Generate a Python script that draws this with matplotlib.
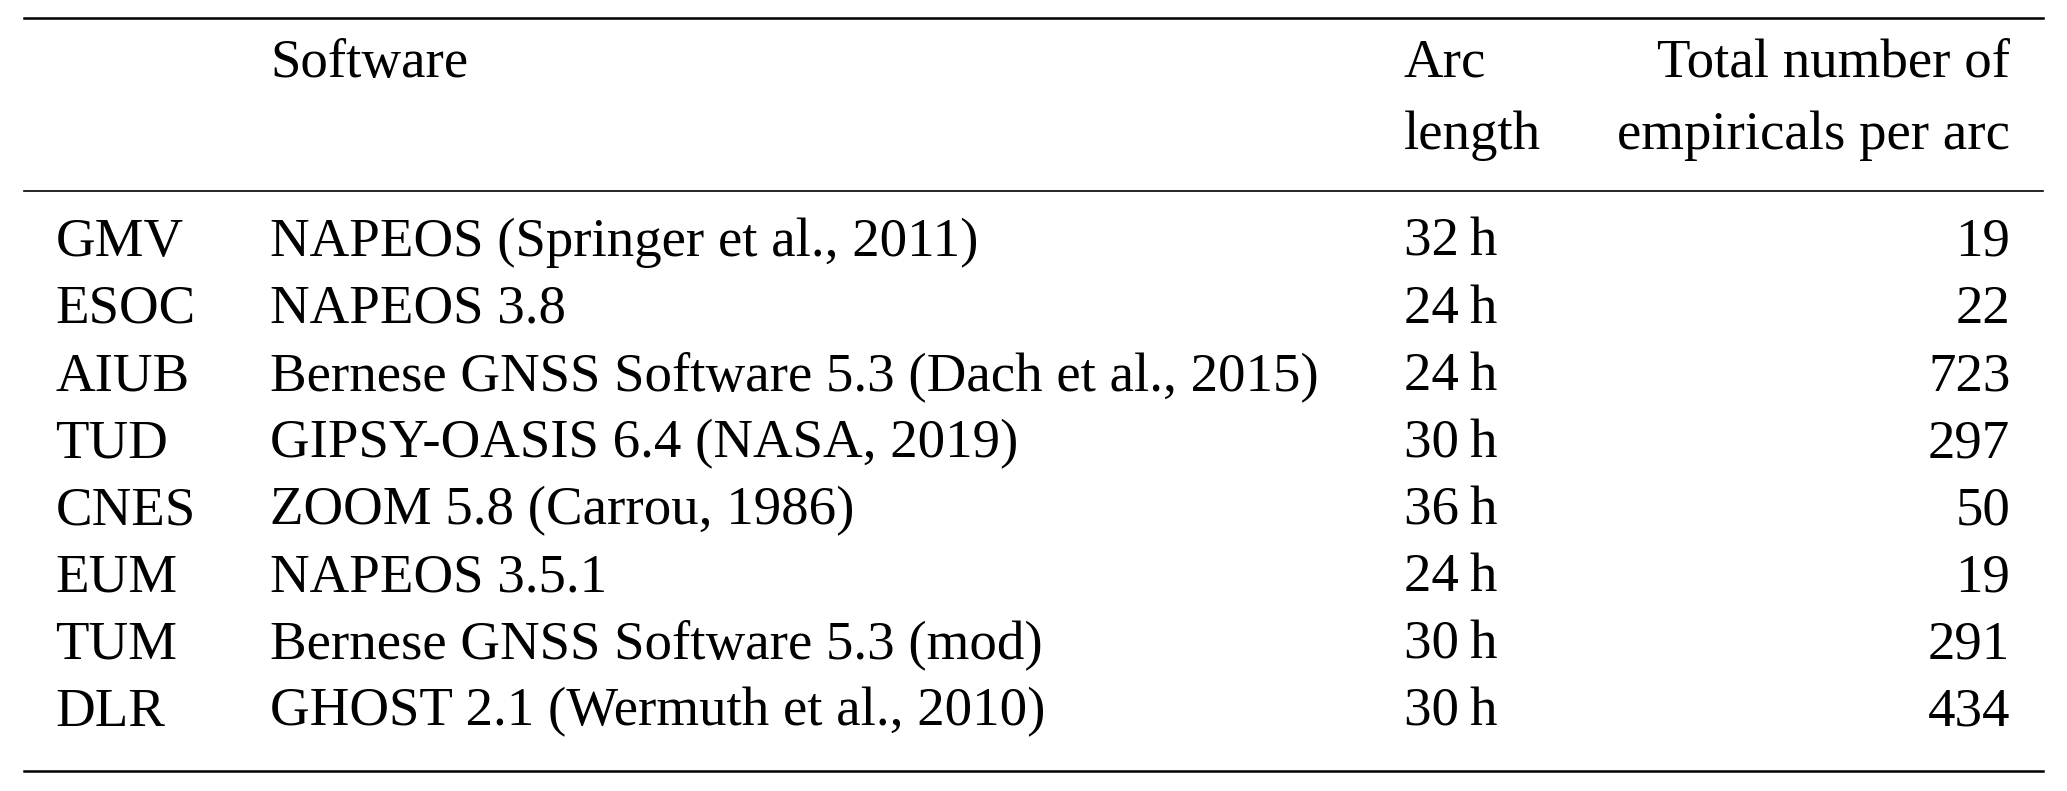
import matplotlib
matplotlib.use("Agg")
import matplotlib.pyplot as plt

# table contents
centres = ["GMV", "ESOC", "AIUB", "TUD", "CNES", "EUM", "TUM", "DLR"]
software = [
    "NAPEOS (Springer et al., 2011)",
    "NAPEOS 3.8",
    "Bernese GNSS Software 5.3 (Dach et al., 2015)",
    "GIPSY-OASIS 6.4 (NASA, 2019)",
    "ZOOM 5.8 (Carrou, 1986)",
    "NAPEOS 3.5.1",
    "Bernese GNSS Software 5.3 (mod)",
    "GHOST 2.1 (Wermuth et al., 2010)",
]
arc_hours = [32, 24, 24, 30, 36, 24, 30, 30]
n_empiricals = [19, 22, 723, 297, 50, 19, 291, 434]

W, H = 1568, 600  # layout reference units
fig = plt.figure(figsize=(20.67, 7.91), dpi=100)
ax = fig.add_axes([0, 0, 1, 1])
ax.set_xlim(0, W)
ax.set_ylim(H, 0)
ax.axis("off")

FS = 39.5
kw = dict(fontsize=FS, family=["Liberation Serif", "DejaVu Serif"], va="center")

for y, lw in [(14, 1.8), (145, 1.2), (585, 1.8)]:
    ax.plot([18, 1550], [y, y], color="black", lw=lw)

ax.text(205, 48, "Software", ha="left", **kw)
ax.text(1065, 48, "Arc", ha="left", **kw)
ax.text(1065, 103, "length", ha="left", **kw)
ax.text(1525, 48, "Total number of", ha="right", **kw)
ax.text(1525, 103, "empiricals per arc", ha="right", **kw)

y0, dy = 184, 50.9
for i, (c, s, a, n) in enumerate(zip(centres, software, arc_hours, n_empiricals)):
    y = y0 + i * dy
    ax.text(42, y, c, ha="left", **kw)
    ax.text(205, y, s, ha="left", **kw)
    ax.text(1065, y, f"{a}\u2009h", ha="left", **kw)
    ax.text(1525, y, str(n), ha="right", **kw)

fig.savefig("out.png", dpi=100)
